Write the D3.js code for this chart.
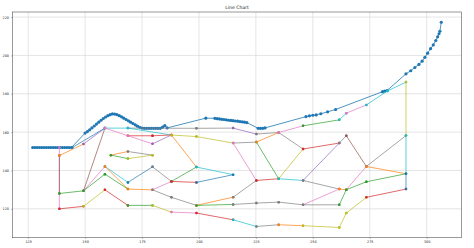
<!DOCTYPE html>
<html>
<head>
<meta charset="utf-8">
<script src="https://cdn.jsdelivr.net/npm/d3@7"></script>
<style>
  body { margin: 0; background: #fff; }
  svg { display: block; font-family: "DejaVu Sans", sans-serif; }
</style>
</head>
<body>
<div id="chart"></div>
<script>
// main trajectory (dense blue series)
var trackX = [127, 128, 129, 130, 131, 132, 133, 134, 135, 136, 137, 138, 139, 140, 141, 142, 143, 144,
    150, 151, 152, 153, 154, 155, 156, 157, 158, 159, 160, 161, 162, 163, 164, 165, 166, 167, 168, 169,
    170, 171, 172, 173, 174, 175, 176, 177, 178, 179, 180, 181, 182, 183, 184, 185, 186,
    203, 207, 208, 209, 210, 211, 212, 213, 214, 215, 216, 217, 218, 219, 220, 221,
    226, 227, 228, 229, 247, 248.5, 250, 251.5, 253.5, 256.5, 260, 280.6, 281.6, 282.6,
    290.9, 293, 294.8, 296.6, 298, 299.2, 300.4, 301.7, 302.9, 304, 304.8, 305.4, 305.8, 306.4];
var trackY = [152, 152, 152, 152, 152, 152, 152, 152, 152, 152, 152, 152, 152, 152, 152, 152, 152, 152,
    159.5, 160.3, 161.2, 162.2, 163.2, 164.2, 165.2, 166.2, 167.1, 167.9, 168.6, 169.1, 169.5, 169.4, 169.1, 168.6, 168, 167.3, 166.6, 165.9,
    165.2, 164.5, 163.8, 163.1, 162.5, 162.1, 162, 162, 162, 162, 162, 162, 162, 162, 162.6, 163.4, 162.2,
    167.3, 167.2, 167, 166.9, 166.7, 166.6, 166.4, 166.2, 166.1, 166, 165.8, 165.7, 165.5, 165.4, 165.2, 165,
    162, 162, 162, 162.2, 168.1, 168.5, 168.8, 169, 169.6, 170.6, 171.8, 181.1, 181.4, 181.7,
    190.4, 192, 193.7, 195.3, 197, 199, 201.2, 203.5, 205.5, 207.8, 209.7, 211.3, 212.6, 217.3];

// graph nodes
var nodeX = [138.7, 138.7, 138.7, 138.7, 144.4, 149.3, 149.3, 149.3, 158.7, 158.7,
    158.7, 158.7, 161.3, 168.8, 168.8, 168.8, 168.8, 168.8, 168.8, 168.8,
    179.6, 179.6, 179.6, 179.6, 179.6, 179.6, 187.9, 187.9, 187.9, 187.9,
    198.9, 198.9, 198.9, 198.9, 198.9, 198.9, 215, 215, 215, 215,
    215, 215, 225.2, 225.2, 225.2, 225.2, 225.2, 235, 235, 235,
    235, 245.7, 245.7, 245.7, 245.7, 245.7, 261.6, 261.6, 261.6, 261.6,
    261.6, 264.7, 264.7, 264.7, 264.7, 273.5, 273.5, 273.5, 273.5, 282.8,
    290.9, 290.9, 290.9, 290.9];
var nodeY = [152, 147.8, 128, 120, 152, 153.8, 129.4, 121.3, 162.1, 142.1,
    138.1, 129.9, 148, 162.1, 158.1, 149.9, 146.2, 133.8, 130.3, 121.8,
    158.1, 153.9, 148, 141.9, 129.9, 121.8, 158.5, 134.3, 126, 118.3,
    162, 157.7, 141.8, 133.8, 121.8, 117.8, 162.1, 154.3, 137.8, 126.1,
    122.3, 114.3, 159, 154.8, 134.8, 123, 110.8, 159.8, 135.7, 123.5,
    111.7, 163.3, 151.2, 134.8, 122.1, 111.2, 166.4, 154.3, 130.3, 122.1,
    110.3, 169.9, 158.1, 130, 117.8, 174.2, 142.1, 134.1, 126, 181.5,
    186.1, 158.2, 138.3, 130.3];

// edges: [from node, to node]
var edges = [[0, 3], [1, 2], [1, 5], [5, 8], [4, 8], [2, 6], [3, 7], [6, 8], [6, 9], [6, 10],
    [7, 11], [8, 13], [8, 14], [9, 17], [9, 18], [10, 18], [11, 19], [12, 15], [12, 16], [15, 22],
    [16, 22], [13, 30], [13, 26], [14, 20], [14, 21], [20, 26], [21, 26], [17, 23], [18, 24], [19, 25],
    [23, 27], [24, 27], [24, 28], [25, 29], [26, 32], [26, 31], [27, 32], [27, 33], [28, 34], [29, 35],
    [30, 36], [31, 37], [32, 38], [33, 38], [34, 39], [34, 40], [35, 41], [36, 42], [37, 43], [37, 44],
    [39, 44], [40, 45], [41, 46], [42, 47], [43, 48], [43, 47], [44, 48], [45, 49], [46, 50], [47, 52],
    [47, 51], [48, 52], [48, 53], [49, 54], [50, 55], [51, 56], [52, 57], [53, 57], [53, 58], [54, 58],
    [54, 59], [55, 60], [56, 61], [57, 62], [58, 63], [59, 63], [60, 64], [61, 65], [62, 66], [63, 66],
    [63, 67], [64, 68], [65, 69], [66, 71], [66, 72], [67, 72], [68, 73], [69, 70], [70, 71], [71, 72],
    [72, 73]];
// which colour of the cycle each edge series took
var edgeSeries = [6, 5, 1, 4, 0, 2, 3, 5, 6, 2,
    8, 9, 6, 9, 1, 2, 3, 1, 2, 7,
    8, 7, 9, 3, 6, 3, 4, 0, 1, 2,
    7, 6, 7, 8, 1, 8, 2, 3, 7, 6,
    7, 8, 9, 0, 1, 2, 3, 4, 7, 6,
    7, 7, 9, 7, 2, 1, 3, 7, 7, 7,
    6, 8, 9, 7, 1, 2, 3, 4, 7, 6,
    7, 8, 9, 7, 1, 2, 8, 6, 5, 6,
    2, 8, 9, 7, 1, 2, 3, 9, 8, 9,
    0];

var xTicks = [125, 150, 175, 200, 225, 250, 275, 300];
var yTicks = [120, 140, 160, 180, 200, 220];

var W = 474, H = 248;
var pL = 12.3, pR = 461.7, pT = 12, pB = 237.7;

var svg = d3.select("#chart").append("svg")
    .attr("width", W)
    .attr("height", H);

// autoscale with 5% margins like matplotlib
var allX = trackX.concat(nodeX), allY = trackY.concat(nodeY);
var ex = d3.extent(allX), ey = d3.extent(allY);
var mx = (ex[1] - ex[0]) * 0.05, my = (ey[1] - ey[0]) * 0.05;

var x = d3.scaleLinear().domain([ex[0] - mx, ex[1] + mx]).range([pL, pR]);
var y = d3.scaleLinear().domain([ey[0] - my, ey[1] + my]).range([pB, pT]);

// grid
svg.append("g").selectAll("line")
    .data(xTicks).enter().append("line")
    .attr("x1", d => x(d)).attr("x2", d => x(d))
    .attr("y1", pT).attr("y2", pB)
    .attr("stroke", "#d4d4d4").attr("stroke-width", 0.6);
svg.append("g").selectAll("line")
    .data(yTicks).enter().append("line")
    .attr("y1", d => y(d)).attr("y2", d => y(d))
    .attr("x1", pL).attr("x2", pR)
    .attr("stroke", "#d4d4d4").attr("stroke-width", 0.6);

var plot = svg.append("g");

// blue trajectory first
var track = d3.range(trackX.length);
plot.append("path")
    .datum(track)
    .attr("d", d3.line().x(i => x(trackX[i])).y(i => y(trackY[i])))
    .attr("fill", "none")
    .attr("stroke", "#1f77b4")
    .attr("stroke-width", 0.8);
plot.selectAll(".tp")
    .data(track).enter().append("circle")
    .attr("class", "tp")
    .attr("cx", i => x(trackX[i]))
    .attr("cy", i => y(trackY[i]))
    .attr("r", 1.6)
    .attr("fill", "#1f77b4");

// then each edge, line + its two markers, in plotting order
var colors = d3.schemeCategory10;
edges.forEach(function(e, k) {
    var c = colors[edgeSeries[k] % 10];
    var g = plot.append("g");
    g.append("line")
        .attr("x1", x(nodeX[e[0]])).attr("y1", y(nodeY[e[0]]))
        .attr("x2", x(nodeX[e[1]])).attr("y2", y(nodeY[e[1]]))
        .attr("stroke", c)
        .attr("stroke-width", 0.7);
    g.selectAll("circle")
        .data(e).enter().append("circle")
        .attr("cx", n => x(nodeX[n]))
        .attr("cy", n => y(nodeY[n]))
        .attr("r", 1.25)
        .attr("fill", c);
});

// axes
var xAxis = svg.append("g")
    .attr("transform", "translate(0," + pB + ")")
    .call(d3.axisBottom(x).tickValues(xTicks).tickSize(1.2).tickPadding(1.6).tickSizeOuter(0));
var yAxis = svg.append("g")
    .attr("transform", "translate(" + pL + ",0)")
    .call(d3.axisLeft(y).tickValues(yTicks).tickSize(1.2).tickPadding(2.1).tickSizeOuter(0));
[xAxis, yAxis].forEach(function(a) {
    a.select(".domain").remove();
    a.selectAll("line").attr("stroke", "#444").attr("stroke-width", 0.4);
    a.selectAll("text").attr("font-size", 3.4).attr("fill", "#222")
        .attr("font-family", "DejaVu Sans, sans-serif");
});

// frame
svg.append("rect")
    .attr("x", pL).attr("y", pT)
    .attr("width", pR - pL).attr("height", pB - pT)
    .attr("fill", "none")
    .attr("stroke", "#555")
    .attr("stroke-width", 0.6);

svg.append("text")
    .attr("x", (pL + pR) / 2)
    .attr("y", pT - 3.2)
    .attr("text-anchor", "middle")
    .attr("font-size", 4.6)
    .attr("fill", "#222")
    .text("Line Chart");
</script>
</body>
</html>
